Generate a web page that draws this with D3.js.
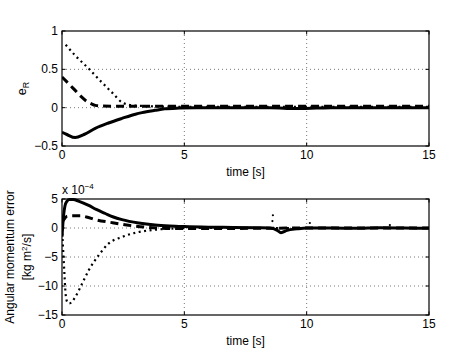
<!DOCTYPE html>
<html><head><meta charset="utf-8">
<script src="https://cdn.jsdelivr.net/npm/d3@7"></script>
<style>
html,body{margin:0;padding:0;background:#fff;}
svg{display:block;font-family:"Liberation Sans",Arial,Helvetica,sans-serif;}
</style></head>
<body>
<script>
// ---------- data ----------
const xTicks = [0, 5, 10, 15];
const topYTicks = [-0.5, 0, 0.5, 1];
const botYTicks = [-15, -10, -5, 0, 5];

// Top: e_R
const eRSolidT = [0, 0.2, 0.54, 0.9, 1.36, 1.9, 2.45, 3.0, 3.27, 3.8, 4.2, 4.8, 5.5, 7, 8.5, 9.2, 9.8, 10.4, 11, 13, 15];
const eRSolidV = [-0.32, -0.35, -0.39, -0.35, -0.27, -0.2, -0.14, -0.085, -0.065, -0.035, -0.015, -0.005, 0, 0, 0, -0.01, -0.012, -0.005, 0, 0, 0];
const eRDashT = [0, 0.25, 0.54, 0.8, 1.02, 1.2, 1.36, 1.6, 2, 3, 5, 8, 10, 12, 15];
const eRDashV = [0.40, 0.32, 0.225, 0.14, 0.08, 0.05, 0.03, 0.022, 0.02, 0.02, 0.02, 0.02, 0.02, 0.02, 0.02];
const eRDotT = [0.15, 0.54, 1.09, 1.63, 2.1, 2.45, 2.9, 3.5, 4, 5, 8, 10, 15];
const eRDotV = [0.82, 0.68, 0.51, 0.33, 0.18, 0.07, 0.03, 0.02, 0.015, 0.01, 0.01, 0.01, 0.01];

// Bottom: angular momentum error (x 1e-4)
const amSolidT = [0, 0.05, 0.12, 0.2, 0.3, 0.45, 0.7, 1.09, 1.4, 1.77, 2.1, 2.45, 3.13, 3.8, 4.4, 5, 6, 7, 8, 8.5, 8.8, 8.95, 9.2, 9.6, 10, 11, 12, 13, 14, 15];
const amSolidV = [-1.5, 1.5, 3.8, 4.6, 4.9, 4.9, 4.6, 3.9, 3.2, 2.5, 1.9, 1.45, 0.87, 0.52, 0.35, 0.25, 0.15, 0.1, 0.05, 0.0, -0.4, -0.8, -0.4, -0.15, 0.0, 0.0, -0.05, 0.05, 0.0, -0.05];
const amDashT = [0, 0.1, 0.2, 0.4, 0.75, 1.0, 1.36, 2.04, 2.72, 3.5, 4.5, 6, 8, 10, 12, 15];
const amDashV = [1.0, 1.6, 2.0, 2.1, 2.1, 1.9, 1.45, 0.93, 0.47, 0.1, -0.1, -0.1, -0.05, 0, 0, 0];
const amDotT = [0, 0.05, 0.1, 0.15, 0.22, 0.3, 0.54, 0.82, 1.09, 1.5, 1.9, 2.45, 3.13, 3.8, 4.5, 5.5, 7, 10, 15];
const amDotV = [0, -4, -8, -11.5, -12.8, -13, -11.9, -9.6, -7.3, -4.7, -2.7, -1.55, -0.7, -0.3, -0.1, 0, 0, 0, 0];
const amOutT = [8.62, 8.6, 10.13, 13.4];
const amOutV = [2.2, 1.2, 0.86, 0.5];

// ---------- layout ----------
const W = 474, H = 356;
const L = 62, R = 429;
const topY0 = 31, topY1 = 146;
const botY0 = 199, botY1 = 315;

const svg = d3.select("body").append("svg").attr("width", W).attr("height", H);

const x = d3.scaleLinear().domain([0, 15]).range([L, R]);
const yTop = d3.scaleLinear().domain([-0.5, 1]).range([topY1, topY0]);
const yBot = d3.scaleLinear().domain([-15, 5]).range([botY1, botY0]);

const zip = (t, v) => t.map((d, i) => [d, v[i]]);

function panel(y, yTicks, y0, y1, series, clipId) {
  const g = svg.append("g");
  const grid = g.append("g").attr("stroke", "#555").attr("stroke-width", 0.8).attr("stroke-dasharray", "1,3");
  xTicks.filter(t => t > 0 && t < 15).forEach(t => {
    grid.append("line").attr("x1", x(t)).attr("x2", x(t)).attr("y1", y0).attr("y2", y1);
  });
  yTicks.slice(1, -1).forEach(t => {
    grid.append("line").attr("x1", L).attr("x2", R).attr("y1", y(t)).attr("y2", y(t));
  });
  svg.append("clipPath").attr("id", clipId).append("rect")
    .attr("x", L).attr("y", y0 - 2).attr("width", R - L).attr("height", y1 - y0 + 4);
  const lines = g.append("g").attr("clip-path", `url(#${clipId})`);
  const line = d3.line().x(d => x(d[0])).y(d => y(d[1])).curve(d3.curveMonotoneX);
  series.forEach(s => {
    lines.append("path").attr("d", line(s.data)).attr("fill", "none")
      .attr("stroke", "#000").attr("stroke-width", s.w)
      .attr("stroke-dasharray", s.dash).attr("stroke-linecap", "butt");
  });
  g.append("rect").attr("x", L).attr("y", y0).attr("width", R - L).attr("height", y1 - y0)
    .attr("fill", "none").attr("stroke", "#000").attr("stroke-width", 1.2);
  const tk = g.append("g").attr("stroke", "#000").attr("stroke-width", 1);
  xTicks.forEach(t => {
    tk.append("line").attr("x1", x(t)).attr("x2", x(t)).attr("y1", y1).attr("y2", y1 - 3.5);
    tk.append("line").attr("x1", x(t)).attr("x2", x(t)).attr("y1", y0).attr("y2", y0 + 3.5);
  });
  yTicks.forEach(t => {
    tk.append("line").attr("x1", L).attr("x2", L + 3.5).attr("y1", y(t)).attr("y2", y(t));
    tk.append("line").attr("x1", R).attr("x2", R - 3.5).attr("y1", y(t)).attr("y2", y(t));
  });
  xTicks.forEach(t => {
    g.append("text").attr("x", x(t)).attr("y", y1 + 13).attr("text-anchor", "middle")
      .attr("font-size", 12).text(String(t));
  });
  yTicks.forEach(t => {
    g.append("text").attr("x", L - 4).attr("y", y(t) + 4).attr("text-anchor", "end")
      .attr("font-size", 12).text(String(t).replace("-", "\u2212"));
  });
  g.append("text").attr("x", (L + R) / 2).attr("y", y1 + 30).attr("text-anchor", "middle")
    .attr("font-size", 12).text("time [s]");
  return g;
}

panel(yTop, topYTicks, topY0, topY1, [
  {data: zip(eRDotT, eRDotV), w: 2.2, dash: "2,3.5"},
  {data: zip(eRDashT, eRDashV), w: 3, dash: "8,5"},
  {data: zip(eRSolidT, eRSolidV), w: 3, dash: null}
], "c1");

const gb = panel(yBot, botYTicks, botY0, botY1, [
  {data: zip(amDotT, amDotV), w: 2.2, dash: "2,3.5"},
  {data: zip(amDashT, amDashV), w: 3, dash: "8,5"},
  {data: zip(amSolidT, amSolidV), w: 3, dash: null}
], "c2");

gb.selectAll("circle.out").data(zip(amOutT, amOutV)).enter().append("circle")
  .attr("cx", d => x(d[0])).attr("cy", d => yBot(d[1])).attr("r", 1.1).attr("fill", "#000");

const ylab1 = svg.append("text").attr("transform", `translate(26,${(topY0 + topY1) / 2}) rotate(-90)`)
  .attr("text-anchor", "middle").attr("font-size", 12.5);
ylab1.append("tspan").text("e");
ylab1.append("tspan").attr("font-size", 9).attr("dy", 3).text("R");

const ylabG = svg.append("g").attr("transform", `translate(0,${(botY0 + botY1) / 2}) rotate(-90)`);
ylabG.append("text").attr("x", 0).attr("y", 14).attr("text-anchor", "middle").attr("font-size", 12)
  .text("Angular momentum error");
const yl2 = ylabG.append("text").attr("x", 0).attr("y", 31).attr("text-anchor", "middle").attr("font-size", 12);
yl2.append("tspan").text("[kg m");
yl2.append("tspan").attr("font-size", 8).attr("dy", -4).text("2");
yl2.append("tspan").attr("dy", 4).text("/s]");

const ex = svg.append("text").attr("x", L).attr("y", botY0 - 5).attr("font-size", 12);
ex.append("tspan").text("x 10");
ex.append("tspan").attr("font-size", 8).attr("dy", -5).text("\u22124");
</script>
</body></html>
